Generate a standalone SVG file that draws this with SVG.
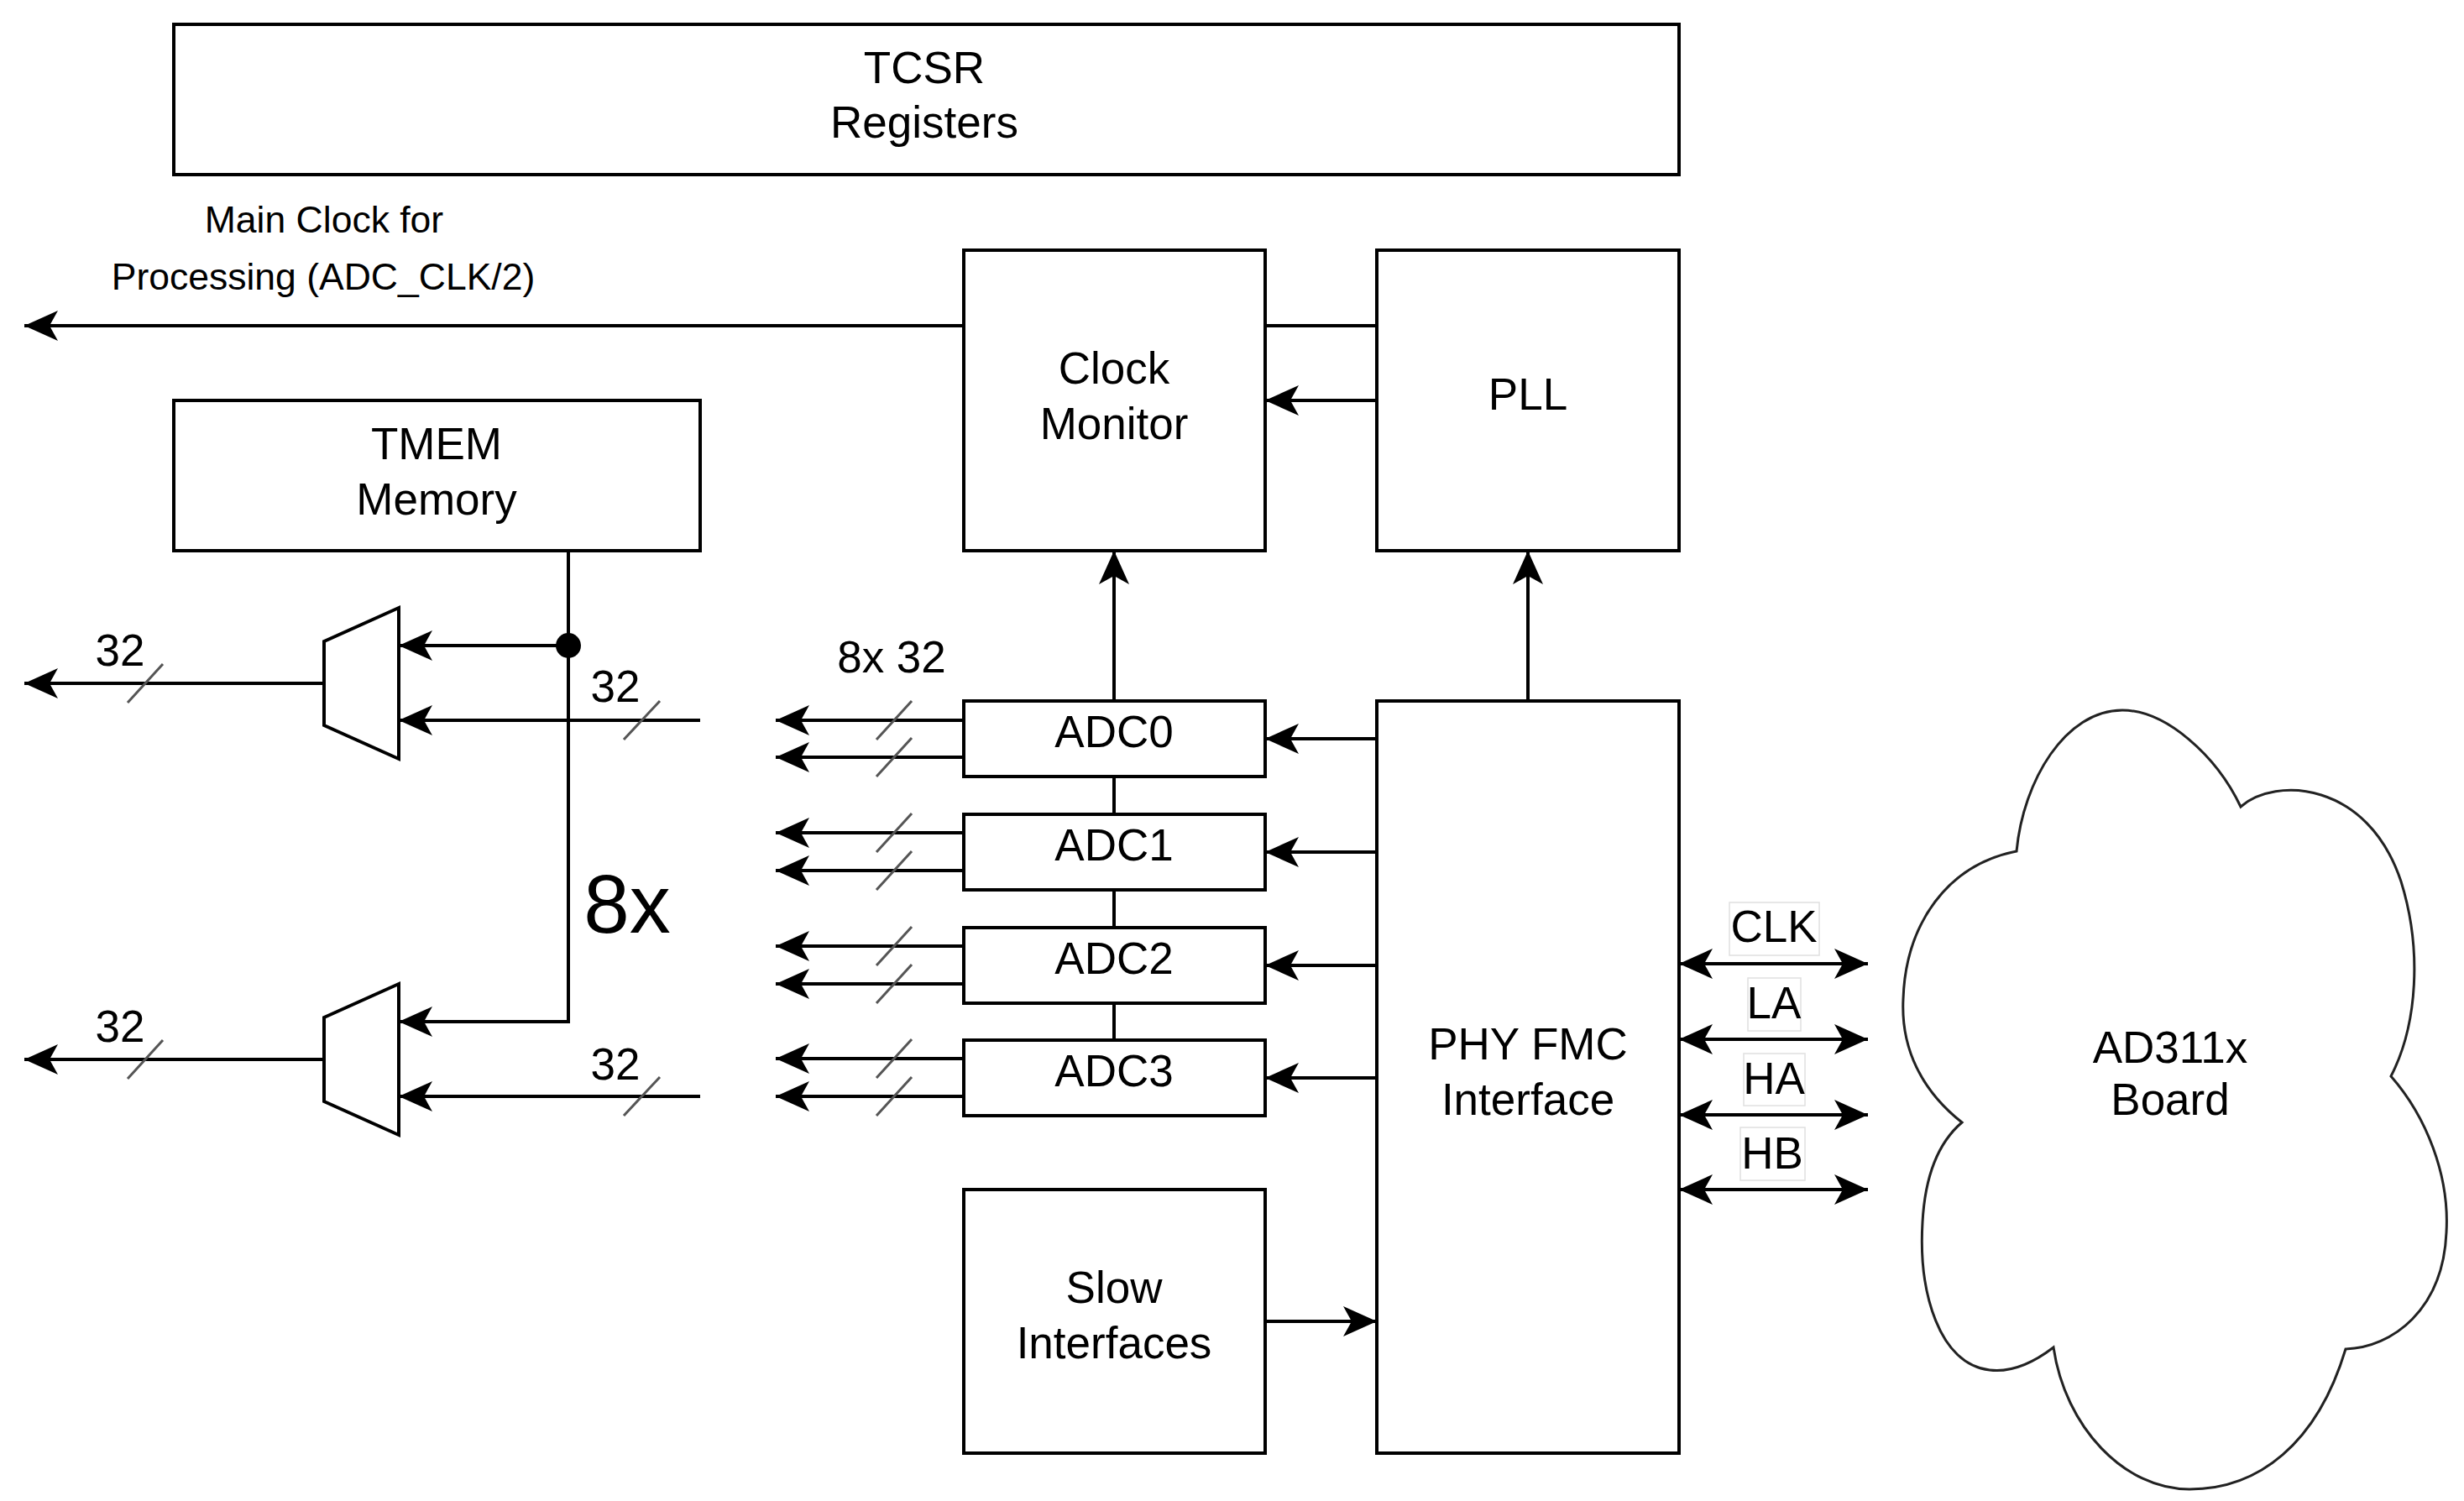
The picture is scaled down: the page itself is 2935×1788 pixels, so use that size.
<svg xmlns="http://www.w3.org/2000/svg" width="2935" height="1788" viewBox="0 0 2935 1788">
<defs>
<style>
.box{fill:#fff;stroke:#000;stroke-width:4}
.ln{fill:none;stroke:#000;stroke-width:4}
.arr{marker-end:url(#ah)}
.bi{marker-start:url(#ah);marker-end:url(#ah)}
.sl{fill:none;stroke:#555;stroke-width:3}
.t{font-family:"Liberation Sans",Arial,sans-serif;font-size:53px;text-anchor:middle;fill:#000}
.small{font-size:44.5px}
.big{font-size:98px}
.lbg{fill:#fff;stroke:#e0e0e0;stroke-width:1.5}
.cloud{fill:#fff;stroke:#222;stroke-width:3}
</style>
<marker id="ah" viewBox="0 0 40 40" refX="40" refY="20" markerWidth="40" markerHeight="40" markerUnits="userSpaceOnUse" orient="auto-start-reverse">
<path d="M40,20 L0,2 L10,20 L0,38 Z" fill="#000"/>
</marker>
</defs>
<rect width="2935" height="1788" fill="#fff"/>

<g id="tcsr"><rect class="box" x="207" y="29" width="1793" height="179"/>
<text class="t" x="1101" y="99">TCSR</text><text class="t" x="1101" y="164">Registers</text></g>

<g id="tmem"><rect class="box" x="207" y="477" width="627" height="179"/>
<text class="t" x="520" y="547">TMEM</text><text class="t" x="520" y="613">Memory</text></g>

<g id="clockmon"><rect class="box" x="1148" y="298" width="359" height="358"/>
<text class="t" x="1327" y="457">Clock</text><text class="t" x="1327" y="523">Monitor</text></g>

<g id="pll"><rect class="box" x="1640" y="298" width="360" height="358"/>
<text class="t" x="1820" y="488">PLL</text></g>

<g id="adc0"><rect class="box" x="1148" y="835" width="359" height="90"/><text class="t" x="1327" y="890">ADC0</text></g>
<g id="adc1"><rect class="box" x="1148" y="970" width="359" height="90"/><text class="t" x="1327" y="1025">ADC1</text></g>
<g id="adc2"><rect class="box" x="1148" y="1105" width="359" height="90"/><text class="t" x="1327" y="1160">ADC2</text></g>
<g id="adc3"><rect class="box" x="1148" y="1239" width="359" height="90"/><text class="t" x="1327" y="1294">ADC3</text></g>

<g id="phy"><rect class="box" x="1640" y="835" width="360" height="896"/>
<text class="t" x="1820" y="1262">PHY FMC</text><text class="t" x="1820" y="1328">Interface</text></g>

<g id="slow"><rect class="box" x="1148" y="1417" width="359" height="314"/>
<text class="t" x="1327" y="1552">Slow</text><text class="t" x="1327" y="1618">Interfaces</text></g>

<g id="mux1"><polygon class="box" points="386,764 475,724 475,904 386,864"/></g>
<g id="mux2"><polygon class="box" points="386,1212 475,1172 475,1352 386,1312"/></g>

<g id="board">
<path class="cloud" d="M2402,1014 C2410,930 2460,846 2528,846 C2580,846 2640,900 2669,961 C2710,925 2820,930 2860,1050 C2885,1130 2880,1220 2848,1282 C2890,1330 2918,1400 2914,1468 C2910,1560 2850,1605 2794,1607 C2760,1720 2690,1774 2608,1774 C2530,1774 2460,1700 2446,1605 C2420,1625 2395,1635 2370,1632 C2310,1625 2285,1540 2290,1456 C2293,1400 2310,1360 2337,1337 C2290,1300 2264,1250 2267,1190 C2270,1100 2320,1030 2402,1014 Z"/>
<text class="t" x="2585" y="1266">AD311x</text><text class="t" x="2585" y="1328">Board</text></g>

<g id="connectors">
<path class="ln arr" d="M1148,388 H29"/>
<path class="ln" d="M1640,388 H1507"/>
<path class="ln arr" d="M1640,477 H1507"/>
<path class="ln arr" d="M1327,835 V656"/>
<path class="ln arr" d="M1820,835 V656"/>
<path class="ln arr" d="M1640,880 H1507"/>
<path class="ln arr" d="M1640,1015 H1507"/>
<path class="ln arr" d="M1640,1150 H1507"/>
<path class="ln arr" d="M1640,1284 H1507"/>
<path class="ln" d="M1327,925 V970 M1327,1060 V1105 M1327,1195 V1239"/>
<path class="ln arr" d="M1148,858 H924"/>
<path class="ln arr" d="M1148,902 H924"/>
<path class="ln arr" d="M1148,992 H924"/>
<path class="ln arr" d="M1148,1037 H924"/>
<path class="ln arr" d="M1148,1127 H924"/>
<path class="ln arr" d="M1148,1172 H924"/>
<path class="ln arr" d="M1148,1261 H924"/>
<path class="ln arr" d="M1148,1306 H924"/>
<path class="ln arr" d="M1507,1574 H1640"/>
<path class="ln bi" d="M2000,1148 H2225"/>
<path class="ln bi" d="M2000,1238 H2225"/>
<path class="ln bi" d="M2000,1328 H2225"/>
<path class="ln bi" d="M2000,1417 H2225"/>
<path class="ln arr" d="M677,656 V769 H475"/>
<path class="ln arr" d="M677,769 V1217 H475"/>
<circle cx="677" cy="769" r="15" fill="#000"/>
<path class="ln arr" d="M834,858 H475"/>
<path class="ln arr" d="M834,1306 H475"/>
<path class="ln arr" d="M386,814 H29"/>
<path class="ln arr" d="M386,1262 H29"/>
<path class="sl" d="M152,837 L194,791 M152,1285 L194,1239 M743,881 L786,835 M743,1329 L786,1283
M1044,881 L1086,835 M1044,925 L1086,879 M1044,1015 L1086,969 M1044,1060 L1086,1014
M1044,1150 L1086,1104 M1044,1195 L1086,1149 M1044,1284 L1086,1238 M1044,1329 L1086,1283"/>
</g>

<g id="labels">
<text class="t small" x="386" y="277">Main Clock for</text>
<text class="t small" x="385" y="345">Processing (ADC_CLK/2)</text>
<text class="t" x="143" y="793">32</text>
<text class="t" x="143" y="1241">32</text>
<text class="t" x="733" y="836">32</text>
<text class="t" x="733" y="1286">32</text>
<text class="t" x="1062" y="801">8x 32</text>
<text class="t big" x="747" y="1111">8x</text>
<rect class="lbg" x="2060" y="1075" width="107" height="63"/><text class="t" x="2113" y="1122">CLK</text>
<rect class="lbg" x="2082" y="1165" width="63" height="63"/><text class="t" x="2113" y="1213">LA</text>
<rect class="lbg" x="2077" y="1255" width="73" height="62"/><text class="t" x="2113" y="1303">HA</text>
<rect class="lbg" x="2073" y="1343" width="77" height="63"/><text class="t" x="2111" y="1392">HB</text>
</g>
</svg>
